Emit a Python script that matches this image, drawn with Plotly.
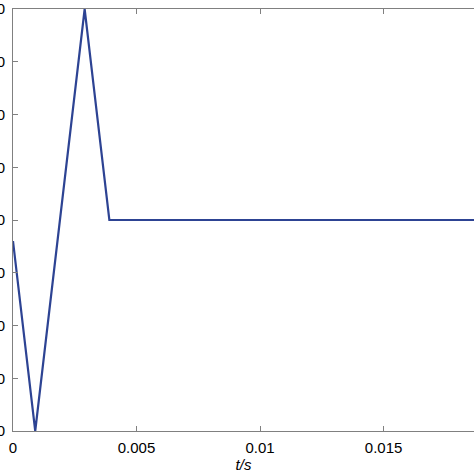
import plotly.graph_objects as go

# waveform samples (time in s, value)
t_values = [0, 0.0009, 0.0029, 0.0039, 0.02]
y_values = [-40, -400, 400, 0, 0]

x_ticks = [0, 0.005, 0.01, 0.015]
x_labels = ["0", "0.005", "0.01", "0.015"]
y_ticks = [-400, -300, -200, -100, 0, 100, 200, 300, 400]

trace = go.Scatter(
    x=t_values,
    y=y_values,
    mode="lines",
    line=dict(color="#2d4393", width=2.2),
    showlegend=False,
)

axis_style = dict(
    showgrid=False,
    zeroline=False,
    showline=True,
    linecolor="#808080",
    linewidth=1,
    ticks="inside",
    ticklen=5,
    tickcolor="#808080",
    tickfont=dict(family="Liberation Sans, Arial", size=15, color="black"),
)

layout = go.Layout(
    width=474,
    height=474,
    margin=dict(l=13, r=0, t=9, b=43),
    paper_bgcolor="white",
    plot_bgcolor="white",
    xaxis=dict(
        axis_style,
        range=[0, 0.01866],
        tickvals=x_ticks,
        ticktext=x_labels,
        mirror="ticks",
        ticklabelstandoff=3,
        title=dict(text="<i>t/s</i>", standoff=4,
                   font=dict(family="Liberation Sans, Arial", size=15, color="black")),
        automargin=False,
    ),
    yaxis=dict(
        axis_style,
        range=[-400, 400],
        tickvals=y_ticks,
        automargin=False,
        ticklabelstandoff=4,
    ),
)

fig = go.Figure(data=[trace], layout=layout)
# drop the default page margin so the figure sits at the window's corner
fig.write_html("out.html", config={"displayModeBar": False},
               post_script="document.body.style.margin='0';")
